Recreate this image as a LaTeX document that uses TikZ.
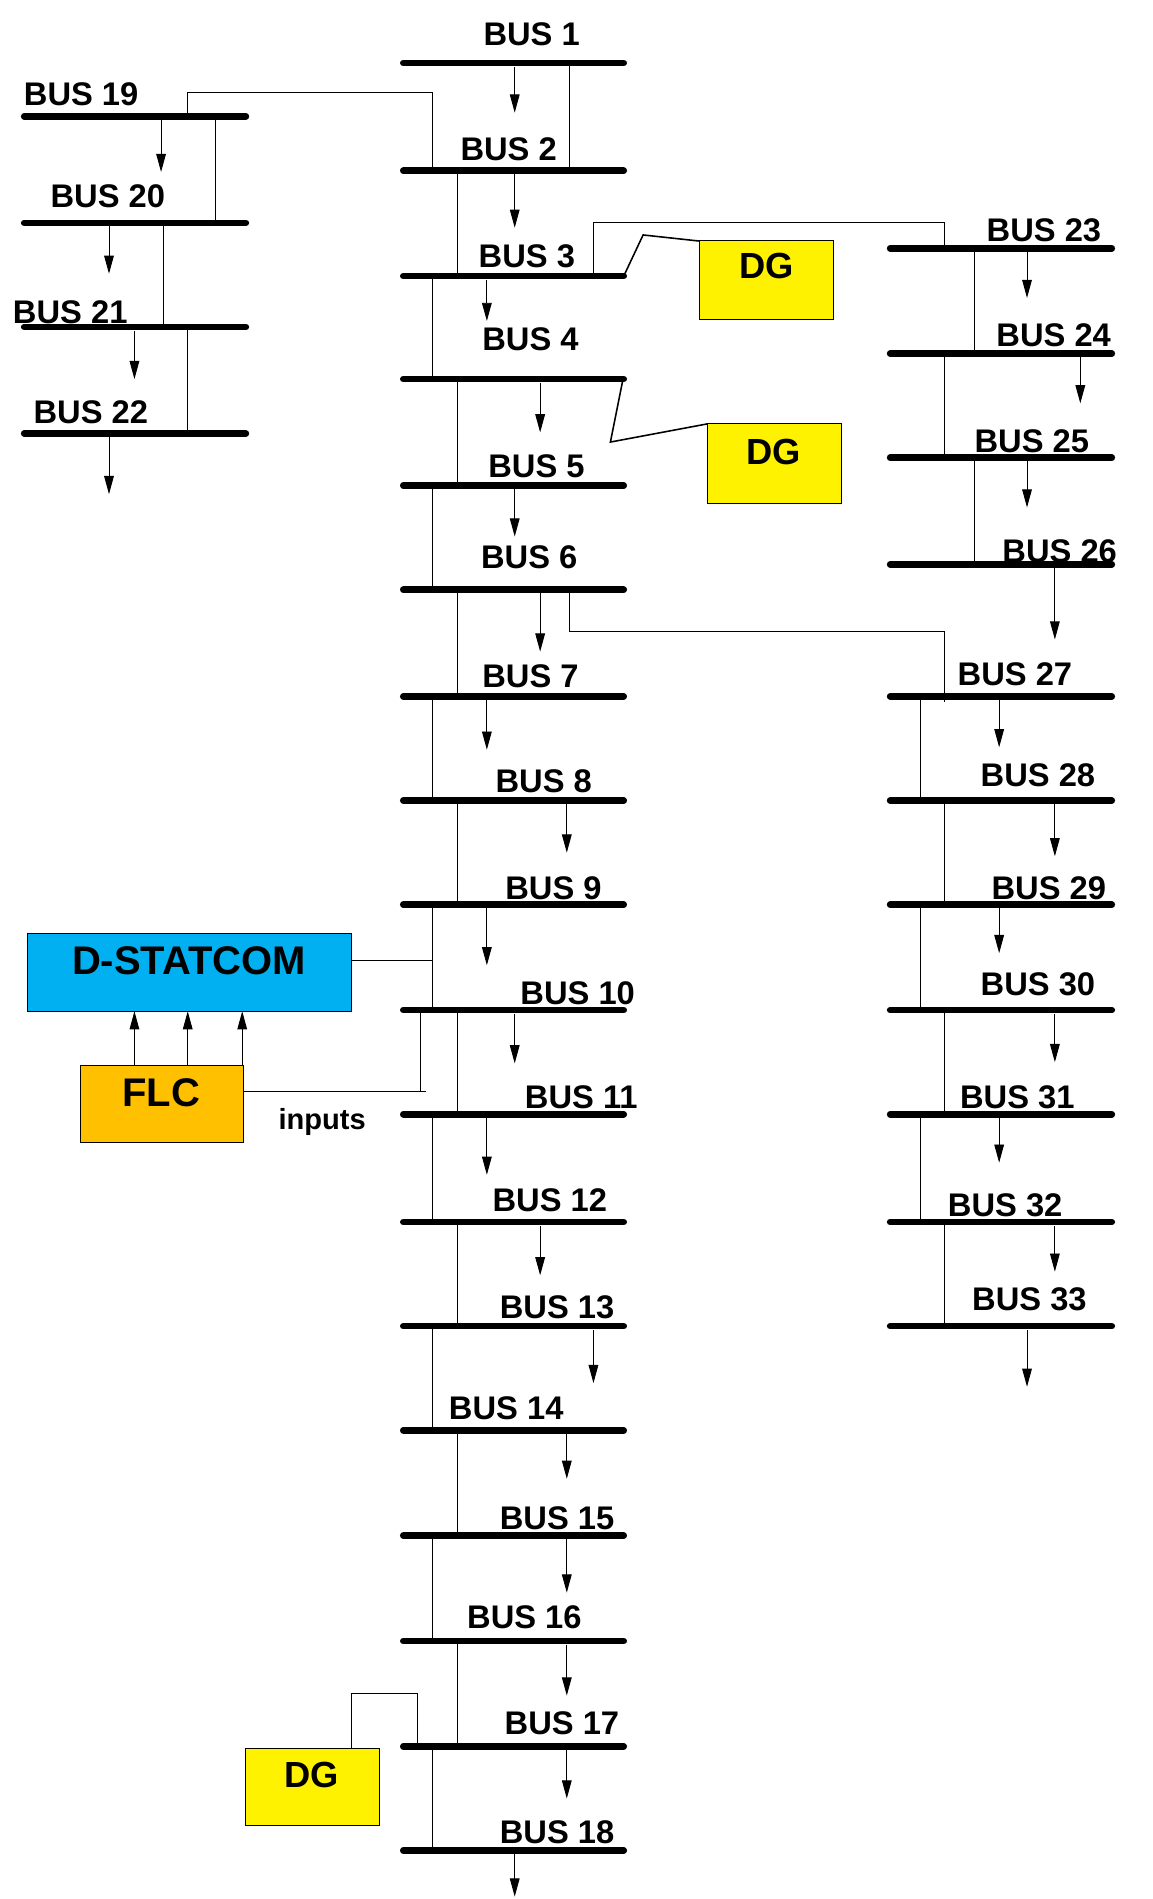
\documentclass[tikz,border=0pt]{standalone}
\usepackage{fontspec}
\setmainfont{Liberation Sans}
\usetikzlibrary{arrows.meta}
\begin{document}
\begin{tikzpicture}[x=1pt,y=-1pt,
  busbar/.style={line width=5.5pt,line cap=round},
  tie/.style={line width=0.8pt},
  load/.style={line width=0.8pt,-{Triangle[length=15pt,width=8pt]}},
  lbl/.style={font=\fontsize{27}{27}\selectfont\bfseries,inner sep=0pt},
  box/.style={draw,line width=0.8pt,inner sep=0pt}]
\useasboundingbox (0,0) rectangle (952,1568);
\fill[white] (0,0) rectangle (952,1568);
% main column buses
\foreach \n/\y/\lx/\ly in {1/52/439/28,2/141/420/123,3/228/435/212,4/313/438/280,5/401/443/385,6/487/437/460,7/575/438/558,8/661/449/645,9/747/457/733,10/834/477/820,11/920/480/906,12/1009/454/991,13/1095/460/1079,14/1181/418/1163,15/1268/460/1254,16/1355/433/1335,17/1442/464/1423,18/1528/460/1513}{
  \coordinate (m\n) at (333,\y);
  \draw[busbar] (m\n) -- ++(182,0);
  \node[lbl] (t\n) at (\lx,\ly) {BUS \n};
}
\foreach \n/\y/\lx/\ly in {19/96/67/78,20/184/89/162,21/270/58/258,22/358/75/340}{
  \coordinate (l\n) at (20,\y);
  \draw[busbar] (l\n) -- ++(183,0);
  \node[lbl] (t\n) at (\lx,\ly) {BUS \n};
}
\foreach \n/\y/\lx/\ly in {23/205/862/190,24/292/870/277,25/378/852/364,26/466/875/455,27/575/838/557,28/661/857/640,29/747/866/733,30/834/857/813,31/920/840/906,32/1009/830/995,33/1095/850/1073}{
  \coordinate (r\n) at (735,\y);
  \draw[busbar] (r\n) -- ++(183,0);
  \node[lbl] (t\n) at (\lx,\ly) {BUS \n};
}
% line sections
\foreach \x/\a/\b in {470/52/141,378/141/228,357/228/313,378/313/401,357/401/487,378/487/575,357/575/661,378/661/747,357/747/834,378/834/920,357/920/1009,378/1009/1095,357/1095/1181,378/1181/1268,357/1268/1355,378/1355/1442,357/1442/1528,
  178/96/184,135/184/270,155/270/358,
  805/205/292,780/292/378,805/378/466,
  760/575/661,780/661/747,760/747/834,780/834/920,760/920/1009,780/1009/1095}
  \draw[tie] (\x,\a) -- (\x,\b);
\draw[tie] (357,141) -- (357,76) -- (155,76) -- (155,96);
\draw[tie] (490,228) -- (490,184) -- (780,184) -- (780,205);
\draw[tie] (470,487) -- (470,521) -- (780,521) -- (780,580);
% loads
\foreach \x/\a/\b in {425/55/93,425/144/188,402/231/265,446/316/357,425/404/443,446/490/538,402/578/619,468/664/704,402/750/797,425/837/878,402/923/970,446/1012/1053,490/1098/1142,468/1184/1221,468/1271/1315,468/1358/1400,468/1445/1485,425/1531/1566,
  133/99/142,90/187/226,111/273/313,90/361/408,
  848/208/246,892/295/333,848/381/419,871/469/528,825/578/617,871/664/707,825/750/787,871/837/877,825/923/960,871/1012/1050,848/1098/1145}
  \draw[load] (\x,\a) -- (\x,\b);
% DGs
\node[box,fill=yellow,minimum width=111pt,minimum height=65pt,anchor=north west] (dg1) at (577,198) {};
\node[lbl,font=\fontsize{30}{30}\selectfont\bfseries] at (633,220) {DG};
\node[box,fill=yellow,minimum width=110pt,minimum height=66pt,anchor=north west] (dg2) at (584,349) {};
\node[lbl,font=\fontsize{30}{30}\selectfont\bfseries] at (639,373) {DG};
\node[box,fill=yellow,minimum width=111pt,minimum height=64pt,anchor=north west] (dg3) at (202,1443) {};
\node[lbl,font=\fontsize{30}{30}\selectfont\bfseries] at (257,1466) {DG};
\draw[line width=1.3pt] (515,228) -- (531,194) -- (dg1.north west |- 0,199);
\draw[line width=1.3pt] (514,315) -- (504,365) -- (584,350);
\draw[tie] (290,1443) -- (290,1398) -- (345,1398) -- (345,1442);
% D-STATCOM and FLC
\node[box,fill={rgb,255:red,0;green,176;blue,240},minimum width=268pt,minimum height=65pt,anchor=north west] (ds) at (22,770) {};
\node[lbl,font=\fontsize{33}{33}\selectfont\bfseries] at (156,793) {D-STATCOM};
\node[box,fill={rgb,255:red,255;green,192;blue,0},minimum width=135pt,minimum height=64pt,anchor=north west] (flc) at (66,879) {};
\node[lbl,font=\fontsize{33}{33}\selectfont\bfseries] at (133,902) {FLC};
\draw[tie] (290,793) -- (357,793);
\foreach \x in {111,155,200}
  \draw[load] (\x,879) -- (\x,835);
\draw[tie] (201,901) -- (352,901);
\draw[tie] (347,901) -- (347,834);
\node[lbl,font=\fontsize{24}{24}\selectfont\bfseries] (inp) at (266,926) {inputs};
\end{tikzpicture}
\end{document}
